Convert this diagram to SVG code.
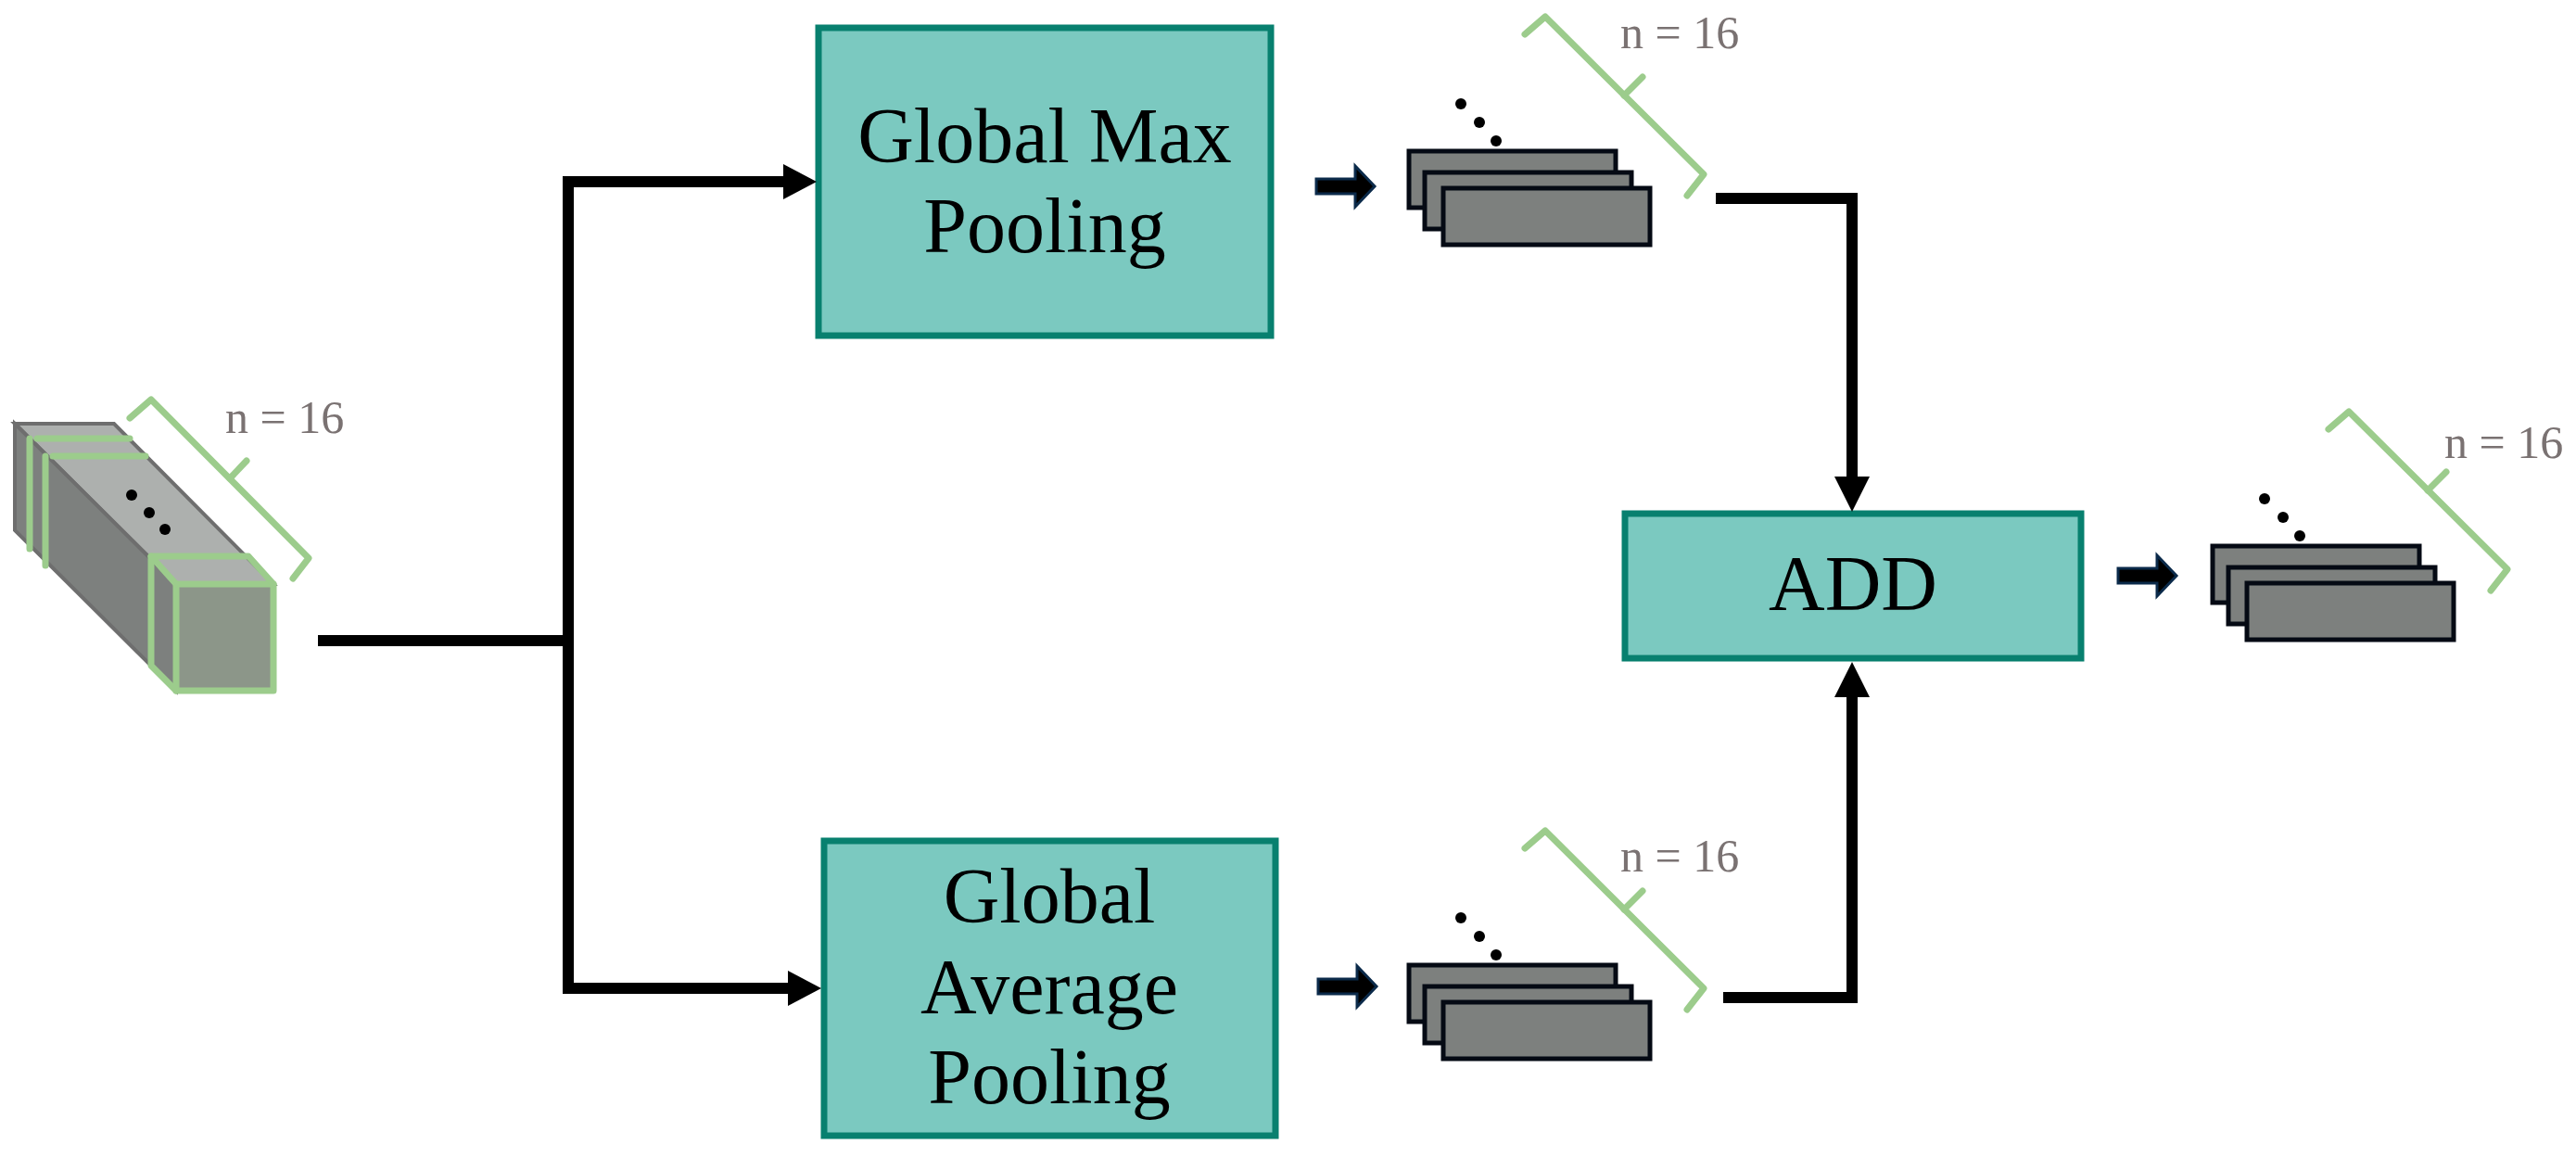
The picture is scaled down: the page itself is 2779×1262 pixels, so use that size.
<svg xmlns="http://www.w3.org/2000/svg" width="2779" height="1262" viewBox="0 0 2779 1262">
<style>
.box{fill:#7bc9c0;stroke:#08806f;stroke-width:7}
.lbl{font-family:"Liberation Serif",serif;font-size:84px;fill:#000;text-anchor:middle}
.n{font-family:"Liberation Serif",serif;font-size:50px;fill:#7a7272}
.br{fill:none;stroke:#9ccc8c;stroke-width:7;stroke-linecap:round;stroke-linejoin:round}
.fm{fill:#7d807e;stroke:#050a14;stroke-width:5}
.ln{fill:none;stroke:#000;stroke-width:12}
.ah{fill:#000}
.sa{fill:#000;stroke:#0b2a4a;stroke-width:3}
</style>
<defs>
<g id="stack">
<rect class="fm" x="0" y="0" width="223" height="61"/>
<rect class="fm" x="17" y="23" width="223" height="61"/>
<rect class="fm" x="37" y="40" width="223" height="61"/>
<circle cx="56" cy="-51" r="6"/><circle cx="76" cy="-31" r="6"/><circle cx="94" cy="-11" r="6"/>
<polyline class="br" points="125,-126 147,-145 318,25 300,48"/>
<line class="br" x1="232" y1="-60" x2="252" y2="-80"/>
</g>
<path id="sarrow" d="M0,-8 H42 V-22 L63,0 L42,22 V8 H0 Z"/>
</defs>
<g id="input">
<polygon points="16,457 123,457 295,630 190,630" fill="#adb0ae" stroke="#6e6e6e" stroke-width="4"/>
<polygon points="16,457 190,630 190,745 16,572" fill="#7d807e" stroke="#6e6e6e" stroke-width="4"/>
<rect x="190" y="630" width="105" height="115" fill="#8c9689"/>
<g class="br" stroke-width="5">
<line x1="32" y1="473" x2="32" y2="592"/><line x1="49" y1="492" x2="49" y2="610"/>
<line x1="40" y1="473" x2="140" y2="473"/><line x1="57" y1="492" x2="157" y2="492"/>
<rect x="190" y="630" width="105" height="115"/>
<polyline points="190,630 163,600 268,600 295,630"/>
<polyline points="163,600 163,718 190,745"/>
</g>
<circle cx="142" cy="534" r="6"/><circle cx="161" cy="553" r="6"/><circle cx="178" cy="571" r="6"/>
<polyline class="br" points="140,451 163,431 333,602 316,624"/>
<line class="br" x1="248" y1="516" x2="266" y2="497"/>
<text class="n" x="243" y="467">n = 16</text>
</g>
<g id="gmp">
<rect class="box" x="883" y="30" width="488" height="332"/>
<text class="lbl" x="1127" y="175">Global Max</text>
<text class="lbl" x="1127" y="272">Pooling</text>
</g>
<g id="gap">
<rect class="box" x="889" y="907" width="487" height="318"/>
<text class="lbl" x="1132" y="995">Global</text>
<text class="lbl" x="1132" y="1093">Average</text>
<text class="lbl" x="1132" y="1190">Pooling</text>
</g>
<g id="add">
<rect class="box" x="1753" y="554" width="492" height="156"/>
<text class="lbl" x="1999" y="658">ADD</text>
</g>
<g id="stack-max">
<use href="#sarrow" class="sa" x="1420" y="201"/>
<use href="#stack" x="1520" y="163"/>
<text class="n" x="1748" y="52">n = 16</text>
</g>
<g id="stack-avg">
<use href="#sarrow" class="sa" x="1422" y="1064"/>
<use href="#stack" x="1520" y="1041"/>
<text class="n" x="1748" y="940">n = 16</text>
</g>
<g id="stack-out">
<use href="#sarrow" class="sa" x="2285" y="621"/>
<use href="#stack" x="2387" y="589"/>
<text class="n" x="2637" y="494">n = 16</text>
</g>
<g id="connectors">
<polyline class="ln" points="343,691 613,691"/>
<polyline class="ln" points="613,1066 613,196 850,196"/>
<polygon class="ah" points="845,177 881,196 845,215"/>
<polyline class="ln" points="613,691 613,1066 852,1066"/>
<polygon class="ah" points="850,1047 886,1066 850,1085"/>
<polyline class="ln" points="1851,214 1998,214 1998,520"/>
<polygon class="ah" points="1979,514 2017,514 1998,552"/>
<polyline class="ln" points="1859,1076 1998,1076 1998,745"/>
<polygon class="ah" points="1979,752 2017,752 1998,714"/>
</g>
</svg>
